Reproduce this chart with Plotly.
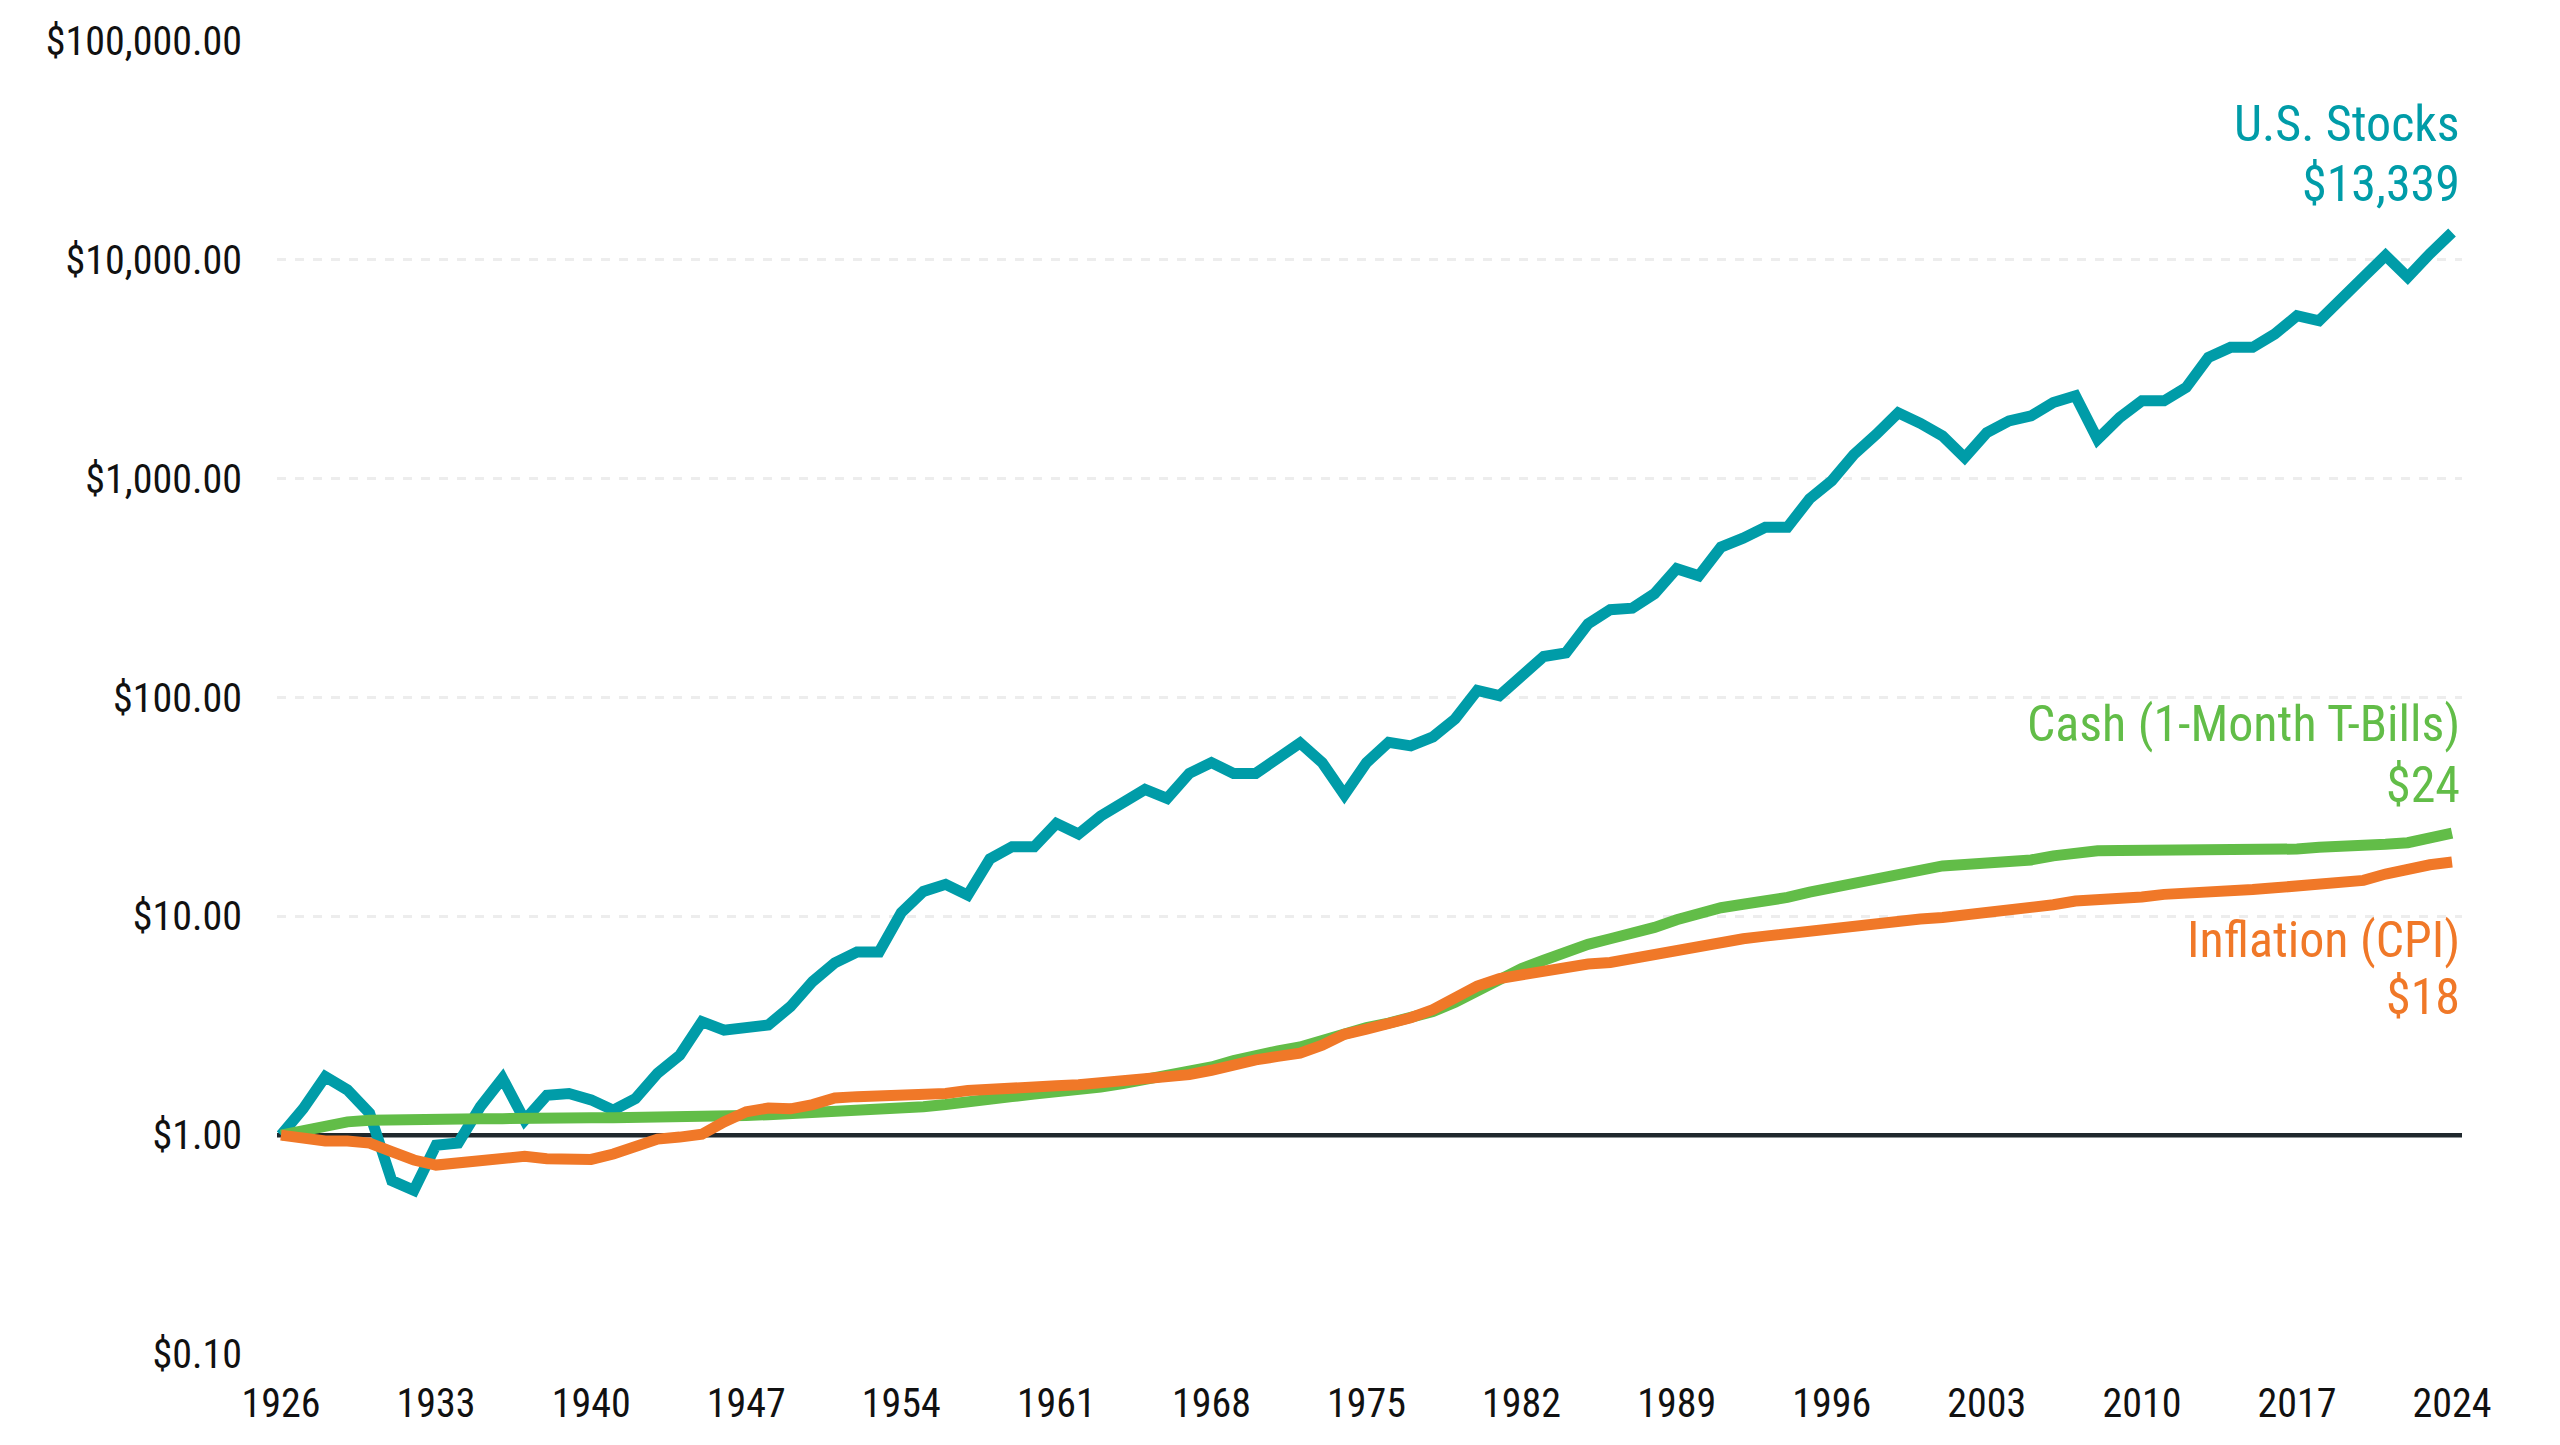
import plotly.graph_objects as go

years = list(range(1926, 2025))

stocks = [
    1.00, 1.32, 1.85, 1.61, 1.26, 0.62, 0.56, 0.90, 0.92, 1.35,          # 1926-1935
    1.82, 1.17, 1.52, 1.55, 1.45, 1.30, 1.47, 1.92, 2.32, 3.30,          # 1936-1945
    3.02, 3.13, 3.19, 3.87, 5.04, 6.13, 6.87, 6.87, 10.4, 13.0,          # 1946-1955
    14.0, 12.5, 18.3, 20.8, 20.8, 26.6, 23.8, 28.7, 32.7, 38.0,          # 1956-1965
    34.6, 45.0, 50.4, 45.0, 45.0, 52.3, 62.0, 50.4, 35.9, 50.4,          # 1966-1975
    62.4, 60.1, 66.1, 79.8, 107.8, 101.9, 125.4, 154, 160, 217,          # 1976-1985
    252, 256, 298, 388, 360, 487, 535, 599, 599, 809,                    # 1986-1995
    977, 1290, 1590, 2000, 1790, 1568, 1248, 1624, 1837, 1935,           # 1996-2005
    2228, 2391, 1514, 1903, 2268, 2268, 2612, 3582, 3981, 3981,          # 2006-2015
    4580, 5553, 5266, 6740, 8330, 10470, 8330, 10660, 13339,             # 2016-2024
]

cash = [
    1.00, 1.05, 1.09, 1.15, 1.17, 1.18, 1.19, 1.19, 1.19, 1.19,          # 1926-1935
    1.19, 1.20, 1.20, 1.20, 1.20, 1.20, 1.20, 1.21, 1.21, 1.22,          # 1936-1945
    1.22, 1.23, 1.24, 1.25, 1.26, 1.28, 1.30, 1.32, 1.33, 1.35,          # 1946-1955
    1.38, 1.43, 1.45, 1.50, 1.54, 1.57, 1.61, 1.66, 1.72, 1.79,          # 1956-1965
    1.87, 1.95, 2.05, 2.19, 2.33, 2.43, 2.53, 2.71, 2.93, 3.10,          # 1966-1975
    3.25, 3.42, 3.67, 4.05, 4.55, 5.22, 5.78, 6.30, 6.92, 7.45,          # 1976-1985
    7.90, 8.35, 8.90, 9.65, 10.40, 10.95, 11.35, 11.70, 12.20, 12.90,    # 1986-1995
    13.55, 14.25, 14.95, 15.65, 16.40, 17.00, 17.25, 17.45, 17.65, 18.10,  # 1996-2005
    18.90, 19.70, 19.95, 20.00, 20.00, 20.00, 20.00, 20.00, 20.00, 20.00,  # 2006-2015
    20.10, 20.30, 20.70, 21.10, 21.30, 21.35, 21.70, 22.80, 24.00,       # 2016-2024
]

inflation = [
    1.00, 0.96, 0.94, 0.94, 0.92, 0.84, 0.77, 0.73, 0.745, 0.76,         # 1926-1935
    0.77, 0.80, 0.78, 0.775, 0.775, 0.82, 0.90, 0.96, 0.98, 1.01,        # 1936-1945
    1.15, 1.28, 1.33, 1.32, 1.38, 1.48, 1.50, 1.51, 1.50, 1.51,          # 1946-1955
    1.55, 1.60, 1.63, 1.65, 1.67, 1.68, 1.70, 1.73, 1.75, 1.78,          # 1956-1965
    1.84, 1.89, 1.98, 2.10, 2.21, 2.29, 2.37, 2.58, 2.89, 3.05,          # 1966-1975
    3.22, 3.44, 3.75, 4.25, 4.80, 5.20, 5.42, 5.62, 5.85, 6.05,          # 1976-1985
    6.15, 6.42, 6.70, 7.02, 7.45, 7.68, 7.90, 8.12, 8.35, 8.56,          # 1986-1995
    8.85, 9.00, 9.15, 9.40, 9.72, 9.87, 10.1, 10.3, 10.65, 11.0,         # 1996-2005
    11.3, 11.75, 11.8, 12.1, 12.25, 12.6, 12.85, 13.0, 13.15, 13.25,     # 2006-2015
    13.5, 13.8, 14.05, 14.4, 14.6, 15.6, 16.6, 17.2, 17.7,               # 2016-2024
]

x_ticks = [1926, 1933, 1940, 1947, 1954, 1961, 1968, 1975, 1982, 1989, 1996, 2003, 2010, 2017, 2024]
y_ticks = [0.1, 1, 10, 100, 1000, 10000, 100000]
y_tick_text = ["$0.10", "$1.00", "$10.00", "$100.00", "$1,000.00", "$10,000.00", "$100,000.00"]
baseline_value = 1.0

X_RANGE = [1925.82, 2024.45]

TEAL = "#009CA8"
GREEN = "#62BD48"
ORANGE = "#F07828"
FONT = "Liberation Sans Narrow, Roboto Condensed, Roboto, sans-serif"

fig = go.Figure()
# $1.00 baseline drawn as a trace so it sits above the dashed grid, below the data lines
fig.add_trace(go.Scatter(x=X_RANGE, y=[baseline_value, baseline_value], mode="lines",
                         line=dict(color="#1F282D", width=4.5), hoverinfo="skip",
                         cliponaxis=False))
fig.add_trace(go.Scatter(x=years, y=stocks, mode="lines", name="U.S. Stocks",
                         line=dict(color=TEAL, width=11), hoverinfo="skip"))
fig.add_trace(go.Scatter(x=years, y=cash, mode="lines", name="Cash (1-Month T-Bills)",
                         line=dict(color=GREEN, width=11), hoverinfo="skip"))
fig.add_trace(go.Scatter(x=years, y=inflation, mode="lines", name="Inflation (CPI)",
                         line=dict(color=ORANGE, width=11), hoverinfo="skip"))

T, B = 41, 91
H = 1445
plot_h = H - T - B


def py(ypx):
    return (H - B - ypx) / plot_h


labels = [
    ("U.S. Stocks", 124, TEAL),
    ("$13,339", 184, TEAL),
    ("Cash (1-Month T-Bills)", 724, GREEN),
    ("$24", 785, GREEN),
    ("Inflation (CPI)", 940, ORANGE),
    ("$18", 997, ORANGE),
]
for text, ypx, col in labels:
    fig.add_annotation(text=text, xref="paper", x=1, xanchor="right", xshift=0,
                       yref="paper", y=py(ypx), yanchor="middle", showarrow=False,
                       font=dict(family=FONT, size=50, color=col))

fig.update_layout(
    width=2560, height=1445,
    margin=dict(l=277, r=98, t=T, b=B),
    paper_bgcolor="white", plot_bgcolor="white",
    showlegend=False,
    font=dict(family=FONT, color="#111111"),
    xaxis=dict(range=X_RANGE, tickvals=x_ticks, showgrid=False, zeroline=False,
               showline=False, ticks="", tickfont=dict(size=40, family=FONT, color="#111111"),
               ticklabelstandoff=22),
    yaxis=dict(type="log", range=[-1, 5], tickvals=y_ticks, ticktext=y_tick_text,
               showgrid=True, gridcolor="#EDEDED", gridwidth=3, griddash="dash",
               zeroline=False, showline=False, ticks="",
               tickfont=dict(size=40, family=FONT, color="#111111"),
               ticklabelstandoff=34),
)

fig.write_html("out.html")
